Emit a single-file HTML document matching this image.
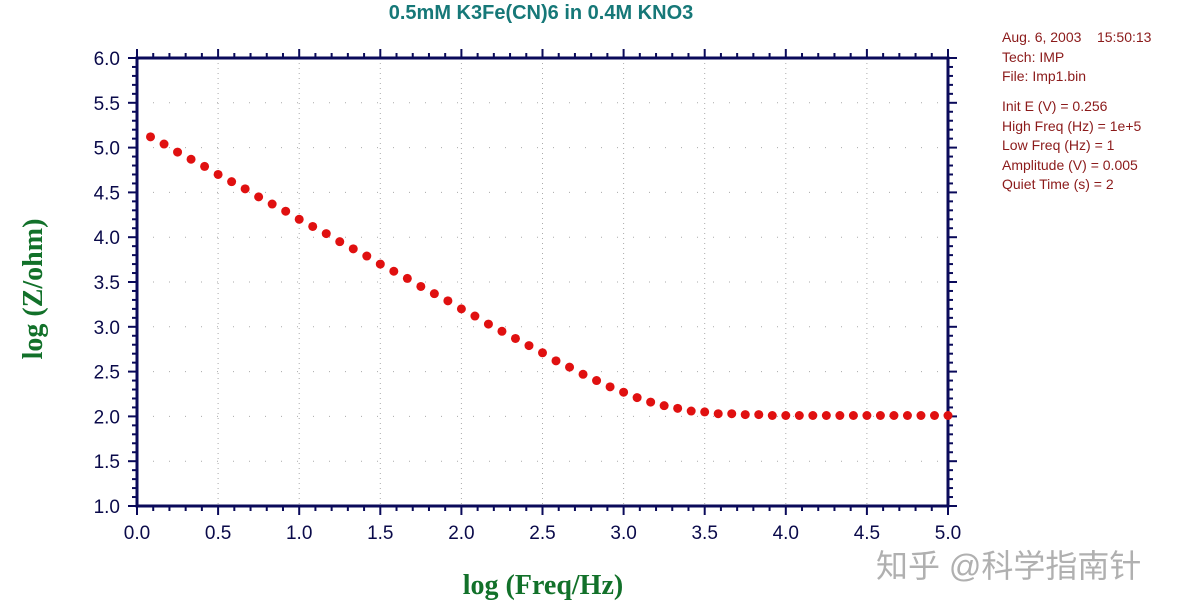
<!DOCTYPE html>
<html><head><meta charset="utf-8"><style>
body{margin:0;background:#fff;width:1202px;height:612px;overflow:hidden}
svg{display:block}
</style></head><body>
<svg width="1202" height="612">
<g id="grid"></g>
<g id="ticks"></g>
<rect x="137" y="58" width="811" height="448" fill="none" stroke="#0a0a5a" stroke-width="3"/>
<g id="pts"></g>
<text x="541" y="19" text-anchor="middle" font-family="Liberation Sans, sans-serif" font-weight="bold" font-size="20" fill="#167878">0.5mM K3Fe(CN)6 in 0.4M KNO3</text>
<text x="543" y="594" text-anchor="middle" font-family="Liberation Serif, serif" font-weight="bold" font-size="28" fill="#12712a">log (Freq/Hz)</text>
<text transform="translate(42,289) rotate(-90)" text-anchor="middle" font-family="Liberation Serif, serif" font-weight="bold" font-size="28" fill="#12712a">log (Z/ohm)</text>
<g font-family="Liberation Sans, sans-serif" font-size="14" fill="#8b1a1a">
<text x="1002" y="42" xml:space="preserve">Aug. 6, 2003    15:50:13</text>
<text x="1002" y="62">Tech: IMP</text>
<text x="1002" y="81">File: Imp1.bin</text>
<text x="1002" y="111">Init E (V) = 0.256</text>
<text x="1002" y="131">High Freq (Hz) = 1e+5</text>
<text x="1002" y="150">Low Freq (Hz) = 1</text>
<text x="1002" y="170">Amplitude (V) = 0.005</text>
<text x="1002" y="189">Quiet Time (s) = 2</text>
</g>
<text x="876" y="577" font-family="Liberation Sans, 'Noto Sans CJK SC', sans-serif" font-size="32" fill="#b0b0b0">知乎 @科学指南针</text>
</svg>
<script>
const xTicks=[0,0.5,1.0,1.5,2.0,2.5,3.0,3.5,4.0,4.5,5.0];
const yTicks=[1.0,1.5,2.0,2.5,3.0,3.5,4.0,4.5,5.0,5.5,6.0];
const logFreq=[];
for(let i=1;i<=60;i++)logFreq.push(+(i/12).toFixed(4));
const logZ=[5.12,5.04,4.95,4.87,4.79,4.70,4.62,4.54,4.45,4.37,4.29,4.20,4.12,4.04,3.95,3.87,3.79,3.70,3.62,3.54,3.45,3.37,3.29,3.20,3.12,3.03,2.95,2.87,2.79,2.71,2.62,2.55,2.47,2.40,2.33,2.27,2.21,2.16,2.12,2.09,2.06,2.05,2.03,2.03,2.02,2.02,2.01,2.01,2.01,2.01,2.01,2.01,2.01,2.01,2.01,2.01,2.01,2.01,2.01,2.01];
const NS='http://www.w3.org/2000/svg';
const X=v=>137+v*(811/5), Y=v=>506-(v-1)*(448/5);
function mk(t,a,p){const e=document.createElementNS(NS,t);for(const k in a)e.setAttribute(k,a[k]);document.getElementById(p).appendChild(e);return e;}
xTicks.slice(1,-1).forEach(v=>{const l=mk('line',{x1:X(v),x2:X(v),y1:58,y2:506,stroke:'#aaa','stroke-width':1,'stroke-dasharray':'1,4'},'grid');

});
yTicks.slice(1,-1).forEach(v=>{const l=mk('line',{x1:137,x2:948,y1:Y(v),y2:Y(v),stroke:'#aaa','stroke-width':1,'stroke-dasharray':'1,15'},'grid');

});
for(let i=0;i<=50;i++){const v=i/10,maj=i%5==0,L=maj?9:5;
mk('line',{x1:X(v),x2:X(v),y1:506,y2:506+L,stroke:'#0a0a5a','stroke-width':2},'ticks');
mk('line',{x1:X(v),x2:X(v),y1:58,y2:58-L,stroke:'#0a0a5a','stroke-width':2},'ticks');}
for(let i=0;i<=50;i++){const v=1+i/10,maj=i%5==0,L=maj?9:5;
mk('line',{x1:137,x2:137-L,y1:Y(v),y2:Y(v),stroke:'#0a0a5a','stroke-width':2},'ticks');
mk('line',{x1:948,x2:948+L,y1:Y(v),y2:Y(v),stroke:'#0a0a5a','stroke-width':2},'ticks');}
xTicks.forEach(v=>{const t=mk('text',{x:X(v),y:539,'text-anchor':'middle','font-family':'Liberation Sans, sans-serif','font-size':19,fill:'#0a0a4a'},'ticks');t.textContent=v.toFixed(1);

});
yTicks.forEach(v=>{const t=mk('text',{x:120,y:Y(v)+7,'text-anchor':'end','font-family':'Liberation Sans, sans-serif','font-size':19,fill:'#0a0a4a'},'ticks');t.textContent=v.toFixed(1);

});
logFreq.forEach((f,i)=>{const c=mk('circle',{cx:X(f),cy:Y(logZ[i]),r:4.5,fill:'#e01010'},'pts');

});
</script>
</body></html>
